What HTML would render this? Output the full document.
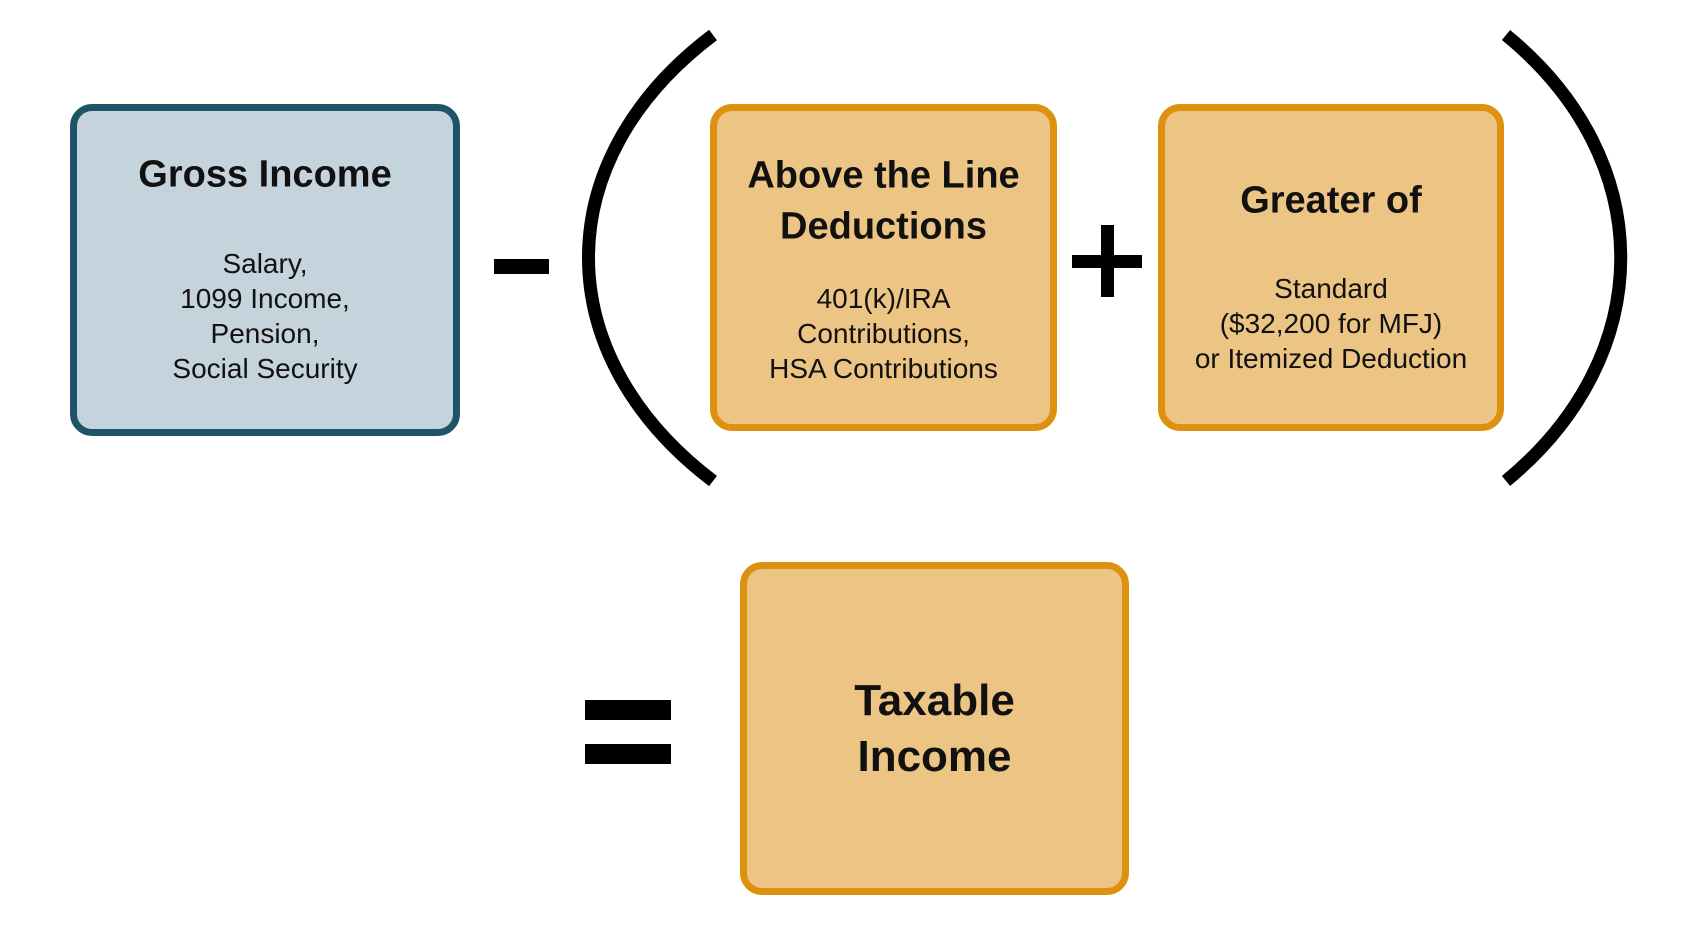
<!DOCTYPE html>
<html><head><style>
body{margin:0;width:1699px;height:935px;background:#fff;position:relative;overflow:hidden;font-family:"Liberation Sans",sans-serif;color:#111}
.box{position:absolute;box-sizing:border-box;border-radius:22px}
.t{position:absolute;left:0;right:0;text-align:center;white-space:nowrap;transform:translateY(-50%)}
.h{font-weight:bold;font-size:38px}
.b{font-size:28px}
.k{position:absolute;background:#000}
</style></head><body>
<div class="box" style="left:70px;top:104px;width:390px;height:332px;background:#c5d3dc;border:7px solid #1d5468"></div>
<div class="box" style="left:710px;top:104px;width:347px;height:327px;background:#ecc585;border:7px solid #de900f"></div>
<div class="box" style="left:1158px;top:104px;width:346px;height:327px;background:#ecc585;border:7px solid #de900f"></div>
<div class="box" style="left:740px;top:562px;width:389px;height:333px;background:#ecc585;border:7px solid #de900f"></div>

<div style="position:absolute;left:70px;width:390px;top:0">
<div class="t h" style="top:175px">Gross Income</div>
<div class="t b" style="top:264px">Salary,</div>
<div class="t b" style="top:299px">1099 Income,</div>
<div class="t b" style="top:334px">Pension,</div>
<div class="t b" style="top:369px">Social Security</div>
</div>
<div style="position:absolute;left:710px;width:347px;top:0">
<div class="t h" style="top:176px">Above the Line</div>
<div class="t h" style="top:227px">Deductions</div>
<div class="t b" style="top:299px">401(k)/IRA</div>
<div class="t b" style="top:334px">Contributions,</div>
<div class="t b" style="top:369px">HSA Contributions</div>
</div>
<div style="position:absolute;left:1158px;width:346px;top:0">
<div class="t h" style="top:201px">Greater of</div>
<div class="t b" style="top:289px">Standard</div>
<div class="t b" style="top:324px">($32,200 for MFJ)</div>
<div class="t b" style="top:359px">or Itemized Deduction</div>
</div>
<div style="position:absolute;left:740px;width:389px;top:0">
<div class="t h" style="top:701px;font-size:44px">Taxable</div>
<div class="t h" style="top:757px;font-size:44px">Income</div>
</div>

<div class="k" style="left:494px;top:259px;width:55px;height:15px"></div>
<div class="k" style="left:1072px;top:255px;width:70px;height:13px"></div>
<div class="k" style="left:1101px;top:225px;width:13px;height:72px"></div>
<div class="k" style="left:585px;top:700px;width:86px;height:20px"></div>
<div class="k" style="left:585px;top:744px;width:86px;height:20px"></div>

<svg width="1699" height="935" style="position:absolute;left:0;top:0">
<path d="M713 35 C547 160 547 355 713 481" fill="none" stroke="#000" stroke-width="13"/>
<path d="M1506 35 C1659 160 1659 355 1506 481" fill="none" stroke="#000" stroke-width="13"/>
</svg>
</body></html>
